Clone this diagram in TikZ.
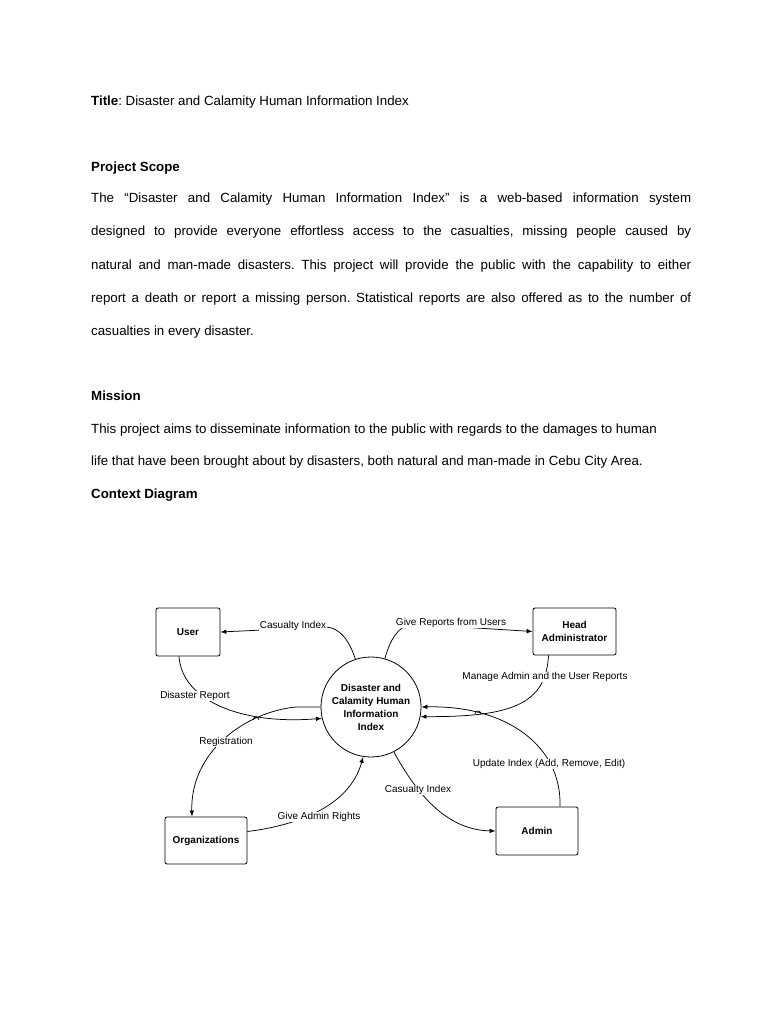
\documentclass[tikz,border=0pt]{standalone}
\usepackage{fontspec}
\setmainfont{Liberation Sans}
\usetikzlibrary{arrows.meta}
\frenchspacing
\begin{document}
\begin{tikzpicture}[x=1pt,y=-1pt,
  body/.style={anchor=base west, inner sep=0pt, font=\fontsize{13.3}{16}\selectfont},
  ent/.style={draw, rounded corners=2pt, line width=0.8pt, align=center, inner sep=0pt,
    font=\fontsize{10}{12.5}\selectfont\bfseries},
  procstyle/.style={draw, circle, line width=0.8pt, minimum size=100pt, inner sep=0pt, align=center,
    font=\fontsize{10}{13}\selectfont\bfseries},
  lbl/.style={fill=white, inner sep=0.5pt, font=\fontsize{10}{12}\selectfont},
  flow/.style={line width=0.75pt, -{Latex[length=6pt,width=4.5pt]}}
]
\fill[white] (0,0) rectangle (768,1024);
\useasboundingbox (0,0) rectangle (768,1024);

% ---- text ----
\node[body] (title) at (91,106) {\textbf{Title}: Disaster and Calamity Human Information Index};
\node[body] (scopeh) at (91,172) {\textbf{Project Scope}};
\node[body] (s1) at (91,203) {\makebox[600pt][s]{The “Disaster and Calamity Human Information Index” is a web-based information system}};
\node[body] (s2) at (91,236) {\makebox[600pt][s]{designed to provide everyone effortless access to the casualties, missing people caused by}};
\node[body] (s3) at (91,269) {\makebox[600pt][s]{natural and man-made disasters. This project will provide the public with the capability to either}};
\node[body] (s4) at (91,302) {\makebox[600pt][s]{report a death or report a missing person. Statistical reports are also offered as to the number of}};
\node[body] (s5) at (91,335) {casualties in every disaster.};
\node[body] (missionh) at (91,400) {\textbf{Mission}};
\node[body] (m1) at (91,433) {This project aims to disseminate information to the public with regards to the damages to human};
\node[body] (m2) at (91,465) {life that have been brought about by disasters, both natural and man-made in Cebu City Area.};
\node[body] (ctxh) at (91,498) {\textbf{Context Diagram}};

% ---- diagram nodes ----
\node[ent, minimum width=64pt, minimum height=48pt] (user) at (188,632) {User};
\node[ent, minimum width=83pt, minimum height=47pt] (head) at (574.5,631.5) {Head\\Administrator};
\node[procstyle] (proc) at (371,707) {Disaster and\\Calamity Human\\Information\\Index};
\node[ent, minimum width=82pt, minimum height=47pt] (org) at (206,840.5) {Organizations};
\node[ent, minimum width=82pt, minimum height=48pt] (admin) at (537,831) {Admin};

% ---- flows ----
\draw[flow] (proc.108) .. controls (349,640) and (340,628) .. (326,627) -- (user.east);
\draw[flow] (proc.74) .. controls (390,640) and (398,626) .. (412,624) -- (head.west);
\draw[flow] ([xshift=-9pt]user.south) .. controls (182,700) and (240,725) .. (proc.193);
\draw[flow] (proc.west) -- (296,707) .. controls (245,712) and (190,752) .. ([xshift=-14pt]org.north);
\draw[flow] ([yshift=9pt]org.east) .. controls (300,825) and (350,805) .. (proc.261);
\draw[flow] ([xshift=-26pt]head.south) .. controls (546,705) and (510,717) .. (proc.349);
\draw[flow] ([xshift=23pt]admin.north) .. controls (562,745) and (505,705) .. (proc.east);
\draw[flow] (proc.297) .. controls (420,800) and (450,830) .. (admin.west);

% hops
\draw[line width=0.7pt] (253,720) arc[start angle=180,end angle=0,radius=3pt];
\draw[line width=0.7pt] (475,714) arc[start angle=180,end angle=0,radius=3pt];

% ---- labels ----
\node[lbl] (l1) at (293,626) {Casualty Index};
\node[lbl] (l2) at (451,623) {Give Reports from Users};
\node[lbl] (l3) at (195,696) {Disaster Report};
\node[lbl] (l4) at (545,677) {Manage Admin and the User Reports};
\node[lbl] (l5) at (226,742) {Registration};
\node[lbl] (l6) at (549,764) {Update Index (Add, Remove, Edit)};
\node[lbl] (l7) at (418,790) {Casualty Index};
\node[lbl] (l8) at (319,817) {Give Admin Rights};
\end{tikzpicture}
\end{document}
